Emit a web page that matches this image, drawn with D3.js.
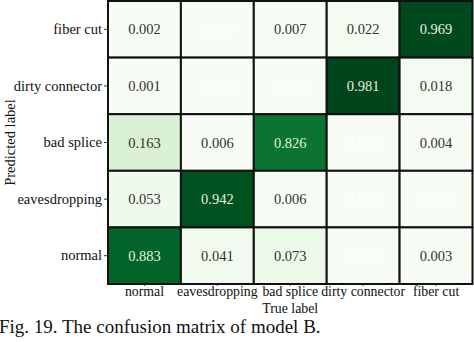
<!DOCTYPE html>
<html><head><meta charset="utf-8">
<script src="https://cdn.jsdelivr.net/npm/d3@7"></script>
<style>
html,body{margin:0;padding:0;background:#fff;}
svg{display:block;}
text{font-family:"Liberation Serif","Times New Roman",serif !important;}
</style></head>
<body>
<script>
const trueLabels = ["normal","eavesdropping","bad splice","dirty connector","fiber cut"];
const predLabels = ["fiber cut","dirty connector","bad splice","eavesdropping","normal"];
const rowFiberCut      = [0.002, 0.000, 0.007, 0.022, 0.969];
const rowDirtyConn     = [0.001, 0.000, 0.000, 0.981, 0.018];
const rowBadSplice     = [0.163, 0.006, 0.826, 0.000, 0.004];
const rowEavesdropping = [0.053, 0.942, 0.006, 0.000, 0.000];
const rowNormal        = [0.883, 0.041, 0.073, 0.000, 0.003];
const matrix = [rowFiberCut, rowDirtyConn, rowBadSplice, rowEavesdropping, rowNormal];
const xTitle = "True label", yTitle = "Predicted label";
const caption = "Fig. 19. The confusion matrix of model B.";

const W = 474, H = 342;
const m = {left:108, right:1.5, top:1, bottom:58};
const svg = d3.select("body").append("svg").attr("width",W).attr("height",H);

const x = d3.scaleBand().domain(trueLabels).range([m.left, W-m.right]);
const y = d3.scaleBand().domain(predLabels).range([m.top, H-m.bottom]);
const maxV = d3.max(matrix.flat());
const color = d3.scaleSequential(d3.interpolateGreens).domain([0, maxV]);

const cells = [];
matrix.forEach((row,i)=>row.forEach((v,j)=>cells.push({r:predLabels[i], c:trueLabels[j], v})));

const g = svg.append("g");
g.selectAll("rect").data(cells).join("rect")
  .attr("x",d=>x(d.c)).attr("y",d=>y(d.r))
  .attr("width",x.bandwidth()).attr("height",y.bandwidth())
  .attr("fill",d=>color(d.v))
  .attr("stroke","#111").attr("stroke-width",2);

g.selectAll("text.val").data(cells).join("text").attr("class","val")
  .attr("x",d=>x(d.c)+x.bandwidth()/2).attr("y",d=>y(d.r)+y.bandwidth()/2)
  .attr("text-anchor","middle").attr("dominant-baseline","central")
  .style("font-size","14.5px")
  .attr("fill",d=> d.v===0 ? "#ffffff" : (d.v > maxV/2 ? "#e2f2dc" : "#333"))
  .text(d=>d.v.toFixed(3));

const yAxis = d3.axisLeft(y).tickSize(3).tickPadding(2);
const ya = svg.append("g").attr("transform",`translate(${m.left-1},0)`).call(yAxis);
ya.select(".domain").remove();
ya.selectAll("text").style("font-size","14.5px").attr("fill","#111");
ya.selectAll("line").attr("stroke","#333");

const xAxis = d3.axisBottom(x).tickSize(2).tickPadding(0);
const xa = svg.append("g").attr("transform",`translate(0,${H-m.bottom})`).call(xAxis);
xa.select(".domain").remove();
xa.selectAll("text").style("font-size","13.8px").attr("fill","#111");
xa.selectAll("line").attr("stroke","#333");

svg.append("text").attr("x",(m.left+W-m.right)/2).attr("y",313)
  .attr("text-anchor","middle").style("font-size","13.8px").attr("fill","#111").text(xTitle);
svg.append("text").attr("transform",`translate(15,${(m.top+H-m.bottom)/2}) rotate(-90)`)
  .attr("text-anchor","middle").style("font-size","14.5px").attr("fill","#111").text(yTitle);
svg.append("text").attr("x",-1).attr("y",333).style("font-size","19px").attr("fill","#111").text(caption);
</script>
</body></html>
